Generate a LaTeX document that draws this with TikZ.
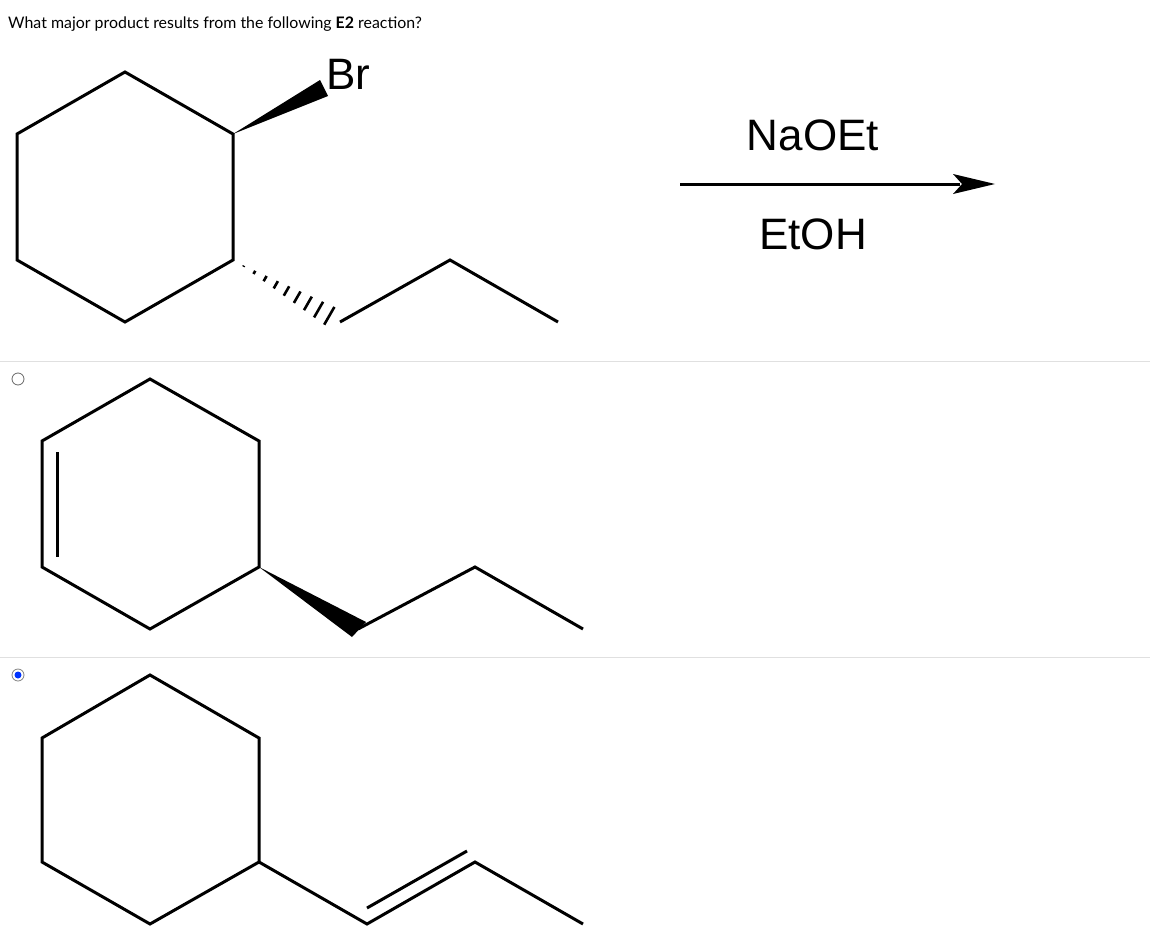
\documentclass[tikz,border=0pt]{standalone}
\usepackage{fontspec}
\usetikzlibrary{calc}
\setmainfont{Lato}
\newfontfamily\chemfont{Liberation Sans}
\begin{document}
\begin{tikzpicture}[x=1pt,y=-1pt,
  bond/.style={line width=3pt,line join=miter},
  sep/.style={draw=black!12,line width=0.8pt},
  lbl/.style={font=\chemfont\fontsize{44}{44}\selectfont,inner sep=0pt},
  radio/.style={circle,draw=black!60,line width=0.8pt,minimum size=12pt,inner sep=0pt}]
\useasboundingbox (0,0) rectangle (1150,942);
\node[anchor=west,inner sep=0pt,font=\fontsize{15.9}{16}\selectfont] (q) at (8,24) {What major product results from the following \textbf{E2} reaction?};
% reactant
\coordinate (a1) at (125,72); \coordinate (a2) at (233,134); \coordinate (a3) at (233,260);
\coordinate (a4) at (125,322); \coordinate (a5) at (17,260); \coordinate (a6) at (17,134);
\draw[bond] (a1)--(a2)--(a3)--(a4)--(a5)--(a6)--cycle;
\coordinate (w1) at (320,80); \coordinate (w2) at (328,96);
\fill (a2) -- (w1) -- (w2) -- cycle;
\node[lbl] (br) at (348,74) {Br};
\coordinate (c1) at (340,322); \coordinate (c2) at (450,260); \coordinate (c3) at (558,322);
\foreach \t in {0.1,0.2,...,0.95}{
  \draw[line width=2.6pt] ($(a3)!\t!(c1)+(-\t*6+0.3,\t*10.4-0.5)$) -- ($(a3)!\t!(c1)+(\t*6-0.3,-\t*10.4+0.5)$);
}
\draw[bond] (c1)--(c2)--(c3);
% arrow
\coordinate (ar1) at (680,184); \coordinate (ar2) at (995,184);
\draw[line width=3pt] (ar1) -- (960,184);
\fill (ar2) -- (953,174) -- (962,184) -- (953,194) -- cycle;
\node[lbl] (r1) at (813,135) {NaOEt};
\node[lbl] (r2) at (813,234) {EtOH};
% separators
\draw[sep] (0,361) -- (1150,361);
\draw[sep] (0,657) -- (1150,657);
% option 1
\node[radio] (o1) at (18,379) {};
\coordinate (b1) at (150,379); \coordinate (b2) at (259,441); \coordinate (b3) at (259,567);
\coordinate (b4) at (150,629); \coordinate (b5) at (42,567); \coordinate (b6) at (42,441);
\draw[bond] (b1)--(b2)--(b3)--(b4)--(b5)--(b6)--cycle;
\draw[bond] (57,452) -- (57,557);
\coordinate (d1) at (358,629); \coordinate (d2) at (475,567); \coordinate (d3) at (583,629);
\fill (b3) -- (366,622) -- (352,637) -- cycle;
\draw[bond] (d1)--(d2)--(d3);
% option 2
\node[radio,draw=black!50] (o2) at (18,675) {};
\fill[blue!80!cyan] (o2) circle (3.5pt);
\coordinate (e1) at (150,675); \coordinate (e2) at (259,738); \coordinate (e3) at (259,862);
\coordinate (e4) at (150,924); \coordinate (e5) at (42,862); \coordinate (e6) at (42,738);
\draw[bond] (e1)--(e2)--(e3)--(e4)--(e5)--(e6)--cycle;
\coordinate (f1) at (367,924); \coordinate (f2) at (475,862); \coordinate (f3) at (583,924);
\draw[bond] (e3)--(f1)--(f2)--(f3);
\draw[bond] (367,908) -- (467,851);
\end{tikzpicture}
\end{document}
